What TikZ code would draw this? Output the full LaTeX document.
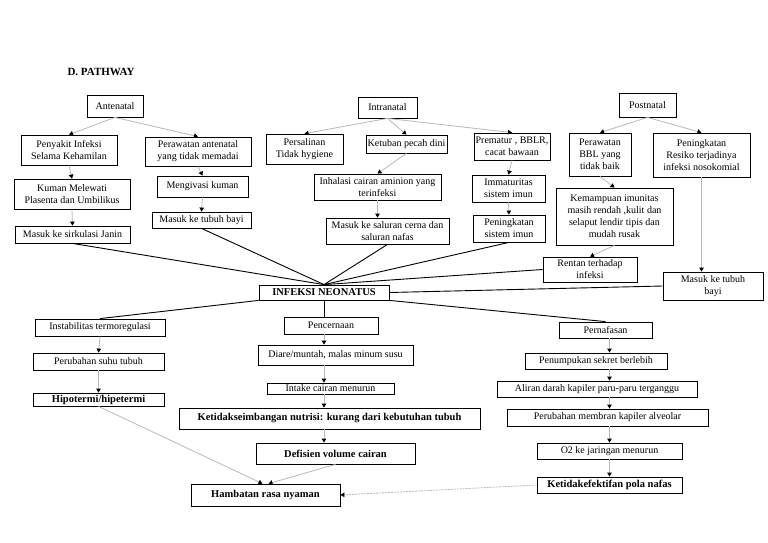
\documentclass[tikz,border=0pt]{standalone}
\usepackage{fontspec}
\setmainfont{Liberation Serif}
\usetikzlibrary{arrows.meta}

\begin{document}
\begin{tikzpicture}
        [x=1pt, y=-1pt,
        box/.style={draw, line width=0.8pt, align=center, inner sep=0pt, font=\fontsize{10}{12}\selectfont},
        boxBold/.style={box, font=\fontsize{10.5}{12}\selectfont\bfseries},
        arrowGray/.style={draw=black!28, line width=0.8pt, -{Triangle[length=4pt, width=4.5pt, color=black]}},
        link/.style={draw=black, line width=0.9pt}]
        \useasboundingbox (0,0) rectangle (768,543);
        \node[font=\fontsize{11}{13}\selectfont\bfseries, anchor=west] (title) at (64,72) {D. PATHWAY};

        % antenatal
        \node[box, minimum width=56pt, minimum height=22pt] (ANT) at (115,106) {Antenatal};
        \node[box, minimum width=96pt, minimum height=30pt] (PIK) at (69,150) {Penyakit Infeksi\\Selama Kehamilan};
        \node[box, minimum width=106pt, minimum height=29pt] (PAT) at (198,151.5) {Perawatan antenatal\\yang tidak memadai};
        \node[box, minimum width=116pt, minimum height=30pt] (KMP) at (72,194) {Kuman Melewati\\Plasenta dan Umbilikus};
        \node[box, minimum width=91pt, minimum height=21pt] (MGK) at (202.5,186.5) {Mengivasi kuman};
        \node[box, minimum width=99pt, minimum height=16pt] (MTB) at (201.5,220) {Masuk ke tubuh bayi};
        \node[box, minimum width=115pt, minimum height=17pt] (MSJ) at (72.5,234.5) {Masuk ke sirkulasi Janin};

        % intranatal
        \node[box, minimum width=59pt, minimum height=21pt] (INT) at (387.5,107.5) {Intranatal};
        \node[box, minimum width=77pt, minimum height=30pt] (PTH) at (304.5,149) {Persalinan\\Tidak hygiene};
        \node[box, minimum width=81pt, minimum height=18pt] (KPD) at (406.5,144) {Ketuban pecah dini};
        \node[box, minimum width=76pt, minimum height=27pt] (PBC) at (512,146.5) {Prematur , BBLR,\\cacat bawaan};
        \node[box, minimum width=127pt, minimum height=26pt] (ICA) at (377.5,187) {Inhalasi cairan aminion yang\\terinfeksi};
        \node[box, minimum width=73pt, minimum height=27pt] (ISI) at (508.5,188.5) {Immaturitas\\sistem imun};
        \node[box, minimum width=123pt, minimum height=26pt] (MSC) at (387.5,231) {Masuk ke saluran cerna dan\\saluran nafas};
        \node[box, minimum width=72pt, minimum height=27pt] (PSI) at (509,228.5) {Peningkatan\\sistem imun};

        % postnatal
        \node[box, minimum width=57pt, minimum height=24pt] (PST) at (647.5,105) {Postnatal};
        \node[box, minimum width=62pt, minimum height=43pt] (PBB) at (600,154.5) {Perawatan\\BBL yang\\tidak baik};
        \node[box, minimum width=97pt, minimum height=44pt] (PRN) at (701.5,155) {Peningkatan\\Resiko terjadinya\\infeksi nosokomial};
        \node[box, minimum width=117pt, minimum height=57pt] (KIM) at (614.5,216.5) {Kemampuan imunitas\\masih rendah ,kulit dan\\selaput lendir tipis dan\\mudah rusak};
        \node[box, minimum width=94pt, minimum height=25pt] (RTI) at (590,269.5) {Rentan terhadap\\infeksi};
        \node[box, minimum width=100pt, minimum height=28pt] (MTB2) at (713,286) {Masuk ke tubuh\\bayi};

        \node[boxBold, minimum width=130pt, minimum height=15pt] (INF) at (324,292.5) {INFEKSI NEONATUS};

        % akibat
        \node[box, minimum width=130pt, minimum height=17pt] (ITR) at (100,327.5) {Instabilitas termoregulasi};
        \node[box, minimum width=131pt, minimum height=17pt] (PSU) at (98.5,361.5) {Perubahan suhu tubuh};
        \node[boxBold, minimum width=131pt, minimum height=13pt] (HPT) at (98.5,399.5) {Hipotermi/hipetermi};

        \node[box, minimum width=94pt, minimum height=17pt] (PNC) at (331,325.5) {Pencernaan};
        \node[box, minimum width=155pt, minimum height=20pt] (DMS) at (335.5,355) {Diare/muntah, malas minum susu};
        \node[box, minimum width=127pt, minimum height=11pt] (ICM) at (330.5,388.5) {Intake cairan menurun};
        \node[boxBold, minimum width=301pt, minimum height=21pt] (KNT) at (329.5,418.5) {Ketidakseimbangan nutrisi: kurang dari kebutuhan tubuh};
        \node[boxBold, minimum width=159pt, minimum height=21pt] (DVC) at (335.5,453.5) {Defisien volume cairan};
        \node[boxBold, minimum width=149pt, minimum height=22pt] (HRN) at (265.5,495) {Hambatan rasa nyaman};

        \node[box, minimum width=93pt, minimum height=16pt] (PNF) at (605.5,330) {Pernafasan};
        \node[box, minimum width=142pt, minimum height=16pt] (PSB) at (596,361) {Penumpukan sekret berlebih};
        \node[box, minimum width=200pt, minimum height=16pt] (ADK) at (597,389) {Aliran darah kapiler paru-paru terganggu};
        \node[box, minimum width=201pt, minimum height=17pt] (PMK) at (607.5,417.5) {Perubahan membran kapiler alveolar};
        \node[box, minimum width=145pt, minimum height=16pt] (OJM) at (609.5,451) {O2 ke jaringan menurun};
        \node[boxBold, minimum width=145pt, minimum height=16pt] (KPN) at (609.5,485) {Ketidakefektifan pola nafas};

        \draw[arrowGray] (ANT.south) -- (PIK.north);
        \draw[arrowGray] (ANT.south) -- (PAT.north);
        \draw[arrowGray] (PIK.south) -- (KMP.north);
        \draw[arrowGray] (KMP.south) -- (MSJ.north);
        \draw[arrowGray] (PAT.south) -- (MGK.north);
        \draw[arrowGray] (MGK.south) -- (MTB.north);

        \draw[arrowGray] (INT.south) -- (PTH.north);
        \draw[arrowGray] (INT.south) -- (KPD.north);
        \draw[arrowGray] (INT.south) -- (PBC.north);
        \draw[arrowGray] (KPD.south) -- (ICA.north);
        \draw[arrowGray] (ICA.south) -- (ICA.south |- MSC.north);
        \draw[arrowGray] (PBC.south) -- (ISI.north);
        \draw[arrowGray] (ISI.south) -- (PSI.north);

        \draw[arrowGray] (PST.south) -- (PBB.north);
        \draw[arrowGray] (PST.south) -- (PRN.north);
        \draw[arrowGray] (PBB.south) -- (KIM.north);
        \draw[arrowGray] (KIM.south) -- (RTI.north);
        \draw[arrowGray] (PRN.south) -- (PRN.south |- MTB2.north);

        \draw[link] (MSJ.south) -- (INF.north);
        \draw[link] (MTB.south) -- (INF.north);
        \draw[link] (MSC.south) -- (INF.north);
        \draw[link] (PSI.south) -- (INF.north);
        \draw[link] (RTI.west) -- (INF.north);
        \draw[link] (MTB2.west) -- (INF.east);
        \draw[link] (INF.south west) -- (ITR.north);
        \draw[link] (INF.south) -- (INF.south |- PNC.north);
        \draw[link] (INF.south east) -- (PNF.north);

        \draw[arrowGray] (ITR.south) -- (PSU.north);
        \draw[arrowGray] (PSU.south) -- (HPT.north);
        \draw[arrowGray] (PNC.south -| INF) -- (DMS.north -| INF);
        \draw[arrowGray] (DMS.south -| INF) -- (ICM.north -| INF);
        \draw[arrowGray] (ICM.south -| INF) -- (KNT.north -| INF);
        \draw[arrowGray] (KNT.south -| INF) -- (DVC.north -| INF);
        \draw[arrowGray] (PNF.south -| OJM) -- (PSB.north -| OJM);
        \draw[arrowGray] (PSB.south -| OJM) -- (ADK.north -| OJM);
        \draw[arrowGray] (ADK.south -| OJM) -- (PMK.north -| OJM);
        \draw[arrowGray] (PMK.south -| OJM) -- (OJM.north);
        \draw[arrowGray] (OJM.south) -- (KPN.north);

        \draw[arrowGray] (HPT.south) -- ([xshift=-3pt]HRN.north);
        \draw[arrowGray] (DVC.south) -- ([xshift=3pt]HRN.north);
        \draw[arrowGray, dash pattern=on 2pt off 1pt] (KPN.west) -- (HRN.east);
    \end{tikzpicture}
\end{document}
